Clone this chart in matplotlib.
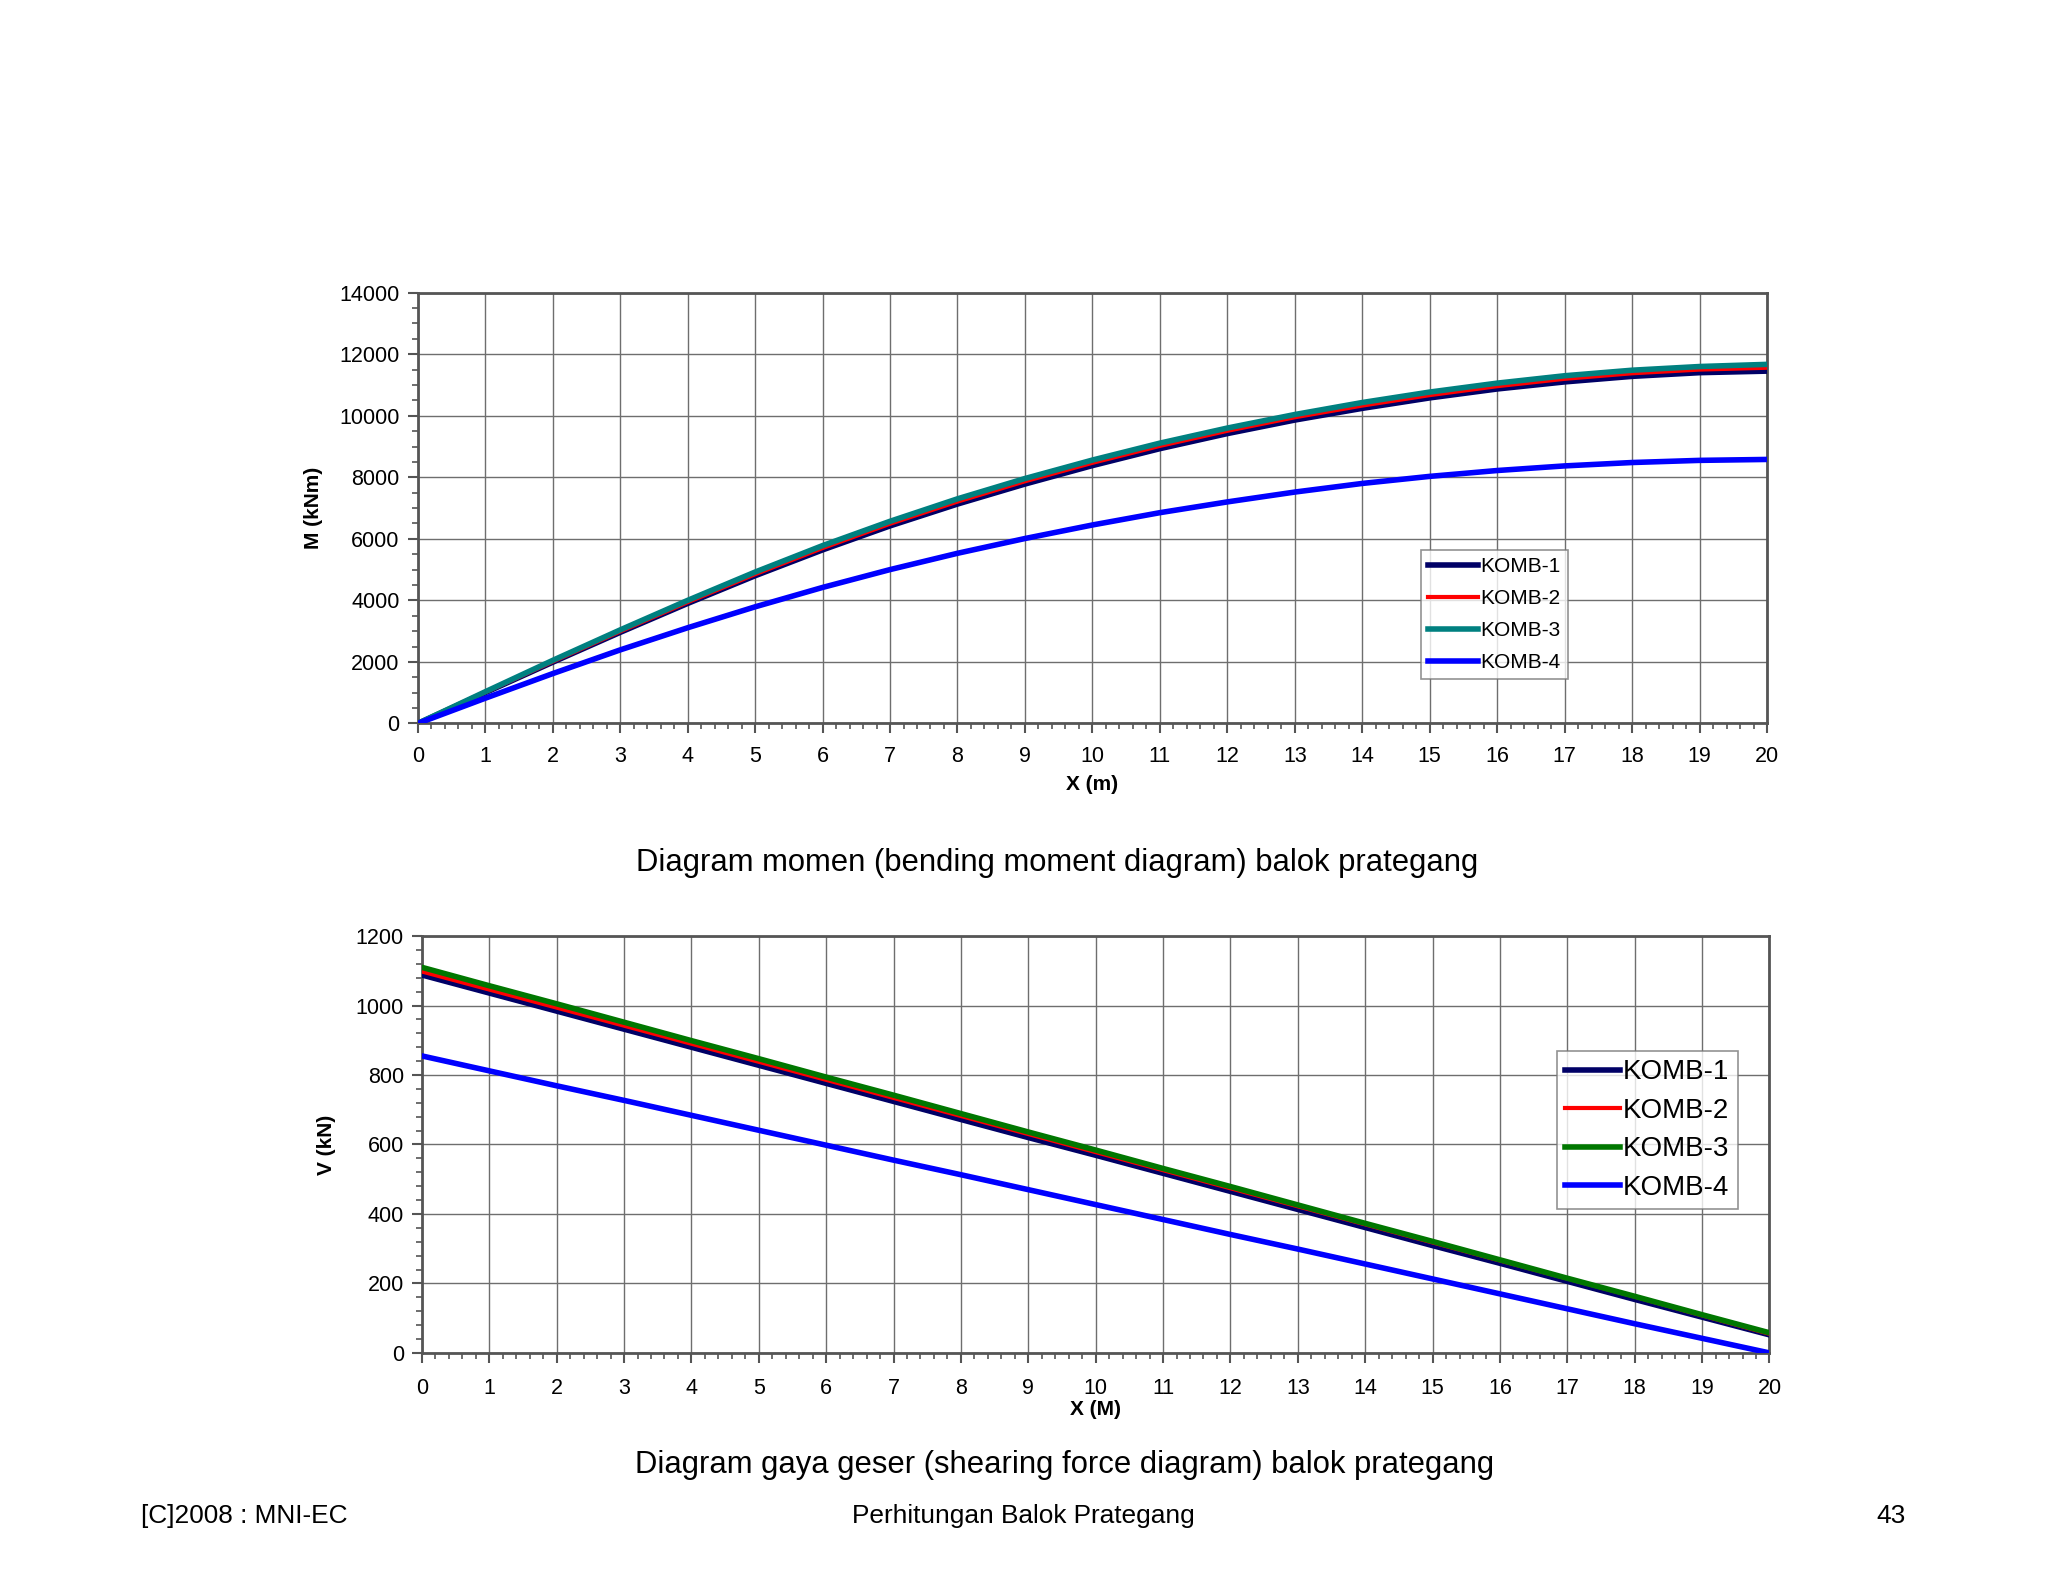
import numpy as np
import matplotlib.pyplot as plt
from matplotlib.ticker import MultipleLocator

plt.rcParams['font.family'] = ['Liberation Sans', 'DejaVu Sans']

# titik x (m)
x = list(range(0, 21))

# momen lentur (kNm)
m_komb1 = [0, 1000, 1990, 2960, 3900, 4800, 5640, 6420, 7130, 7780, 8380,
           8930, 9420, 9860, 10240, 10580, 10870, 11100, 11280, 11400, 11450]
m_komb2 = [0, 1010, 2010, 2990, 3940, 4850, 5700, 6490, 7210, 7870, 8470,
           9020, 9510, 9950, 10330, 10670, 10960, 11200, 11380, 11500, 11560]
m_komb3 = [0, 1030, 2050, 3040, 4000, 4920, 5780, 6570, 7300, 7960, 8560,
           9110, 9600, 10040, 10430, 10770, 11060, 11300, 11480, 11600, 11670]
m_komb4 = [0, 820, 1620, 2390, 3110, 3790, 4420, 5000, 5530, 6010, 6450,
           6850, 7200, 7520, 7800, 8030, 8220, 8370, 8480, 8550, 8580]

# gaya geser (kN)
v_komb1 = [1088, 1036, 984, 932, 880, 828, 776, 724, 672, 620, 569,
           517, 465, 413, 361, 309, 258, 206, 154, 103, 52]
v_komb2 = [1098, 1046, 994, 942, 890, 838, 786, 734, 682, 630, 578,
           526, 474, 422, 370, 318, 266, 214, 162, 108, 55]
v_komb3 = [1110, 1057, 1005, 952, 899, 847, 794, 742, 689, 636, 584,
           531, 479, 426, 373, 321, 268, 215, 163, 110, 58]
v_komb4 = [855, 812, 769, 727, 684, 641, 598, 555, 513, 470, 427,
           384, 341, 299, 256, 213, 170, 127, 84, 42, 0]

labels = ["KOMB-1", "KOMB-2", "KOMB-3", "KOMB-4"]


def style_axes(ax, ymax, ymajor, yminor, xpad):
    ax.set_xlim(0, 20)
    ax.set_ylim(0, ymax)
    ax.xaxis.set_major_locator(MultipleLocator(1))
    ax.xaxis.set_minor_locator(MultipleLocator(0.2))
    ax.yaxis.set_major_locator(MultipleLocator(ymajor))
    ax.yaxis.set_minor_locator(MultipleLocator(yminor))
    ax.grid(True, which="major", color="#6e6e6e", linewidth=1.0)
    ax.set_axisbelow(True)
    for s in ax.spines.values():
        s.set_color("#555555")
        s.set_linewidth(2.0)
    ax.tick_params(which="major", direction="out", length=7, width=1.5,
                   color="#555555", labelsize=15.5, pad=6)
    ax.tick_params(axis="x", which="major", pad=xpad)
    ax.tick_params(which="minor", direction="out", length=4, width=1.2,
                   color="#555555")


fig = plt.figure(figsize=(20.48, 15.82), dpi=100)

# --- diagram momen ---
ax1 = fig.add_axes([0.204, 0.5427, 0.6588, 0.2723])
ax1.plot(x, m_komb1, color="#000066", lw=4.0, label=labels[0], zorder=3)
ax1.plot(x, m_komb2, color="#ff0000", lw=3.0, label=labels[1], zorder=3)
ax1.plot(x, m_komb3, color="#008080", lw=4.0, label=labels[2], zorder=3)
ax1.plot(x, m_komb4, color="#0000ff", lw=4.0, label=labels[3], zorder=3)
style_axes(ax1, 14000, 2000, 500, 9)
ax1.set_xlabel("X (m)", fontsize=15, fontweight="bold", labelpad=6)
ax1.set_ylabel("M (kNm)", fontsize=15, fontweight="bold", labelpad=12)
leg1 = ax1.legend(loc="upper left", bbox_to_anchor=(0.7435, 0.4026),
                  fontsize=15, frameon=True, fancybox=False,
                  handlelength=2.4, handletextpad=0.1, borderpad=0.35,
                  labelspacing=0.62, borderaxespad=0)
leg1.get_frame().set_edgecolor("#777777")
leg1.get_frame().set_linewidth(1.2)

# --- diagram gaya geser ---
ax2 = fig.add_axes([0.206, 0.1448, 0.658, 0.2635])
ax2.plot(x, v_komb1, color="#000066", lw=4.0, label=labels[0], zorder=3)
ax2.plot(x, v_komb2, color="#ff0000", lw=3.0, label=labels[1], zorder=3)
ax2.plot(x, v_komb3, color="#007700", lw=4.0, label=labels[2], zorder=3)
ax2.plot(x, v_komb4, color="#0000ff", lw=4.0, label=labels[3], zorder=3)
style_axes(ax2, 1200, 200, 40, 11)
ax2.set_xlabel("X (M)", fontsize=15, fontweight="bold", labelpad=1)
ax2.set_ylabel("V (kN)", fontsize=15, fontweight="bold", labelpad=14)
leg2 = ax2.legend(loc="upper left", bbox_to_anchor=(0.842, 0.724),
                  fontsize=20, frameon=True, fancybox=False,
                  handlelength=2.0, handletextpad=0.1, borderpad=0.3,
                  labelspacing=0.45, borderaxespad=0)
leg2.get_frame().set_edgecolor("#777777")
leg2.get_frame().set_linewidth(1.2)

# teks keterangan
fig.text(0.516, 0.4545, "Diagram momen (bending moment diagram) balok prategang",
         ha="center", va="center", fontsize=22.3)
fig.text(0.52, 0.074, "Diagram gaya geser (shearing force diagram) balok prategang",
         ha="center", va="center", fontsize=22.3)
fig.text(0.069, 0.042, "[C]2008 : MNI-EC", ha="left", va="center", fontsize=18.9)
fig.text(0.4997, 0.042, "Perhitungan Balok Prategang", ha="center", va="center",
         fontsize=18.9)
fig.text(0.9306, 0.042, "43", ha="right", va="center", fontsize=18.9)

fig.savefig("out.png", dpi=100)
